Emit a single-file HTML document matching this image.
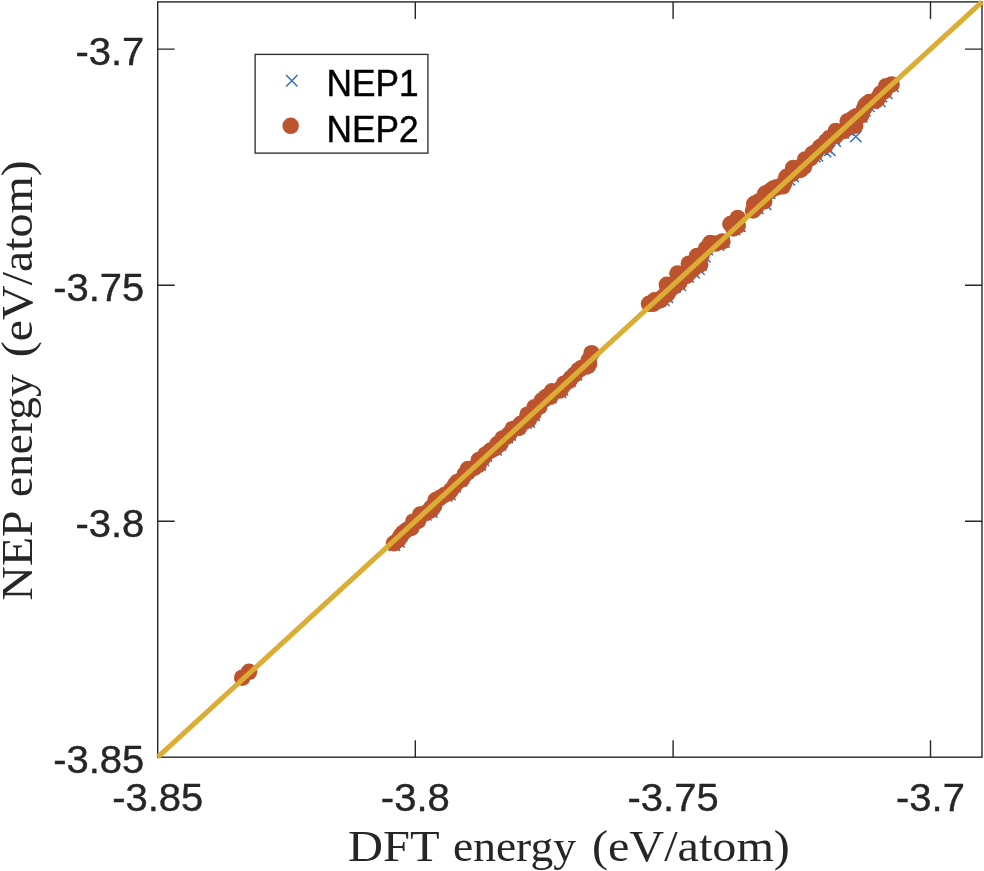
<!DOCTYPE html>
<html><head><meta charset="utf-8"><title>NEP vs DFT energy</title>
<style>
html,body{margin:0;padding:0;background:#fff;}
body{width:984px;height:871px;overflow:hidden;position:relative;}
svg{position:absolute;left:0;top:0;display:block;}
.tk{font-family:"Liberation Sans",Arial,sans-serif;font-size:40px;fill:#262626;stroke:#262626;stroke-width:0.4px;}
.lab{font-family:"Liberation Serif","DejaVu Serif",serif;font-size:44.5px;fill:#262626;}
.lg{font-family:"Liberation Sans",Arial,sans-serif;font-size:36px;fill:#000;stroke:#000;stroke-width:0.45px;}
</style></head>
<body>
<svg width="984" height="871" viewBox="0 0 984 871">
<path d="M850.1 130.9L861.5 142.3M850.1 142.3L861.5 130.9M236.9 672.3L248.3 683.7M236.9 683.7L248.3 672.3M242.5 667.4L253.9 678.8M242.5 678.8L253.9 667.4M819.9 145.9L831.3 157.3M819.9 157.3L831.3 145.9M824.2 144.5L835.6 155.9M824.2 155.9L835.6 144.5M829.5 135.3L840.9 146.7M829.5 146.7L840.9 135.3M828.4 133.1L839.8 144.5M828.4 144.5L839.8 133.1M809.2 150.9L820.6 162.3M809.2 162.3L820.6 150.9M849.4 120.3L860.8 131.7M849.4 131.7L860.8 120.3M583.9 358.9L595.3 370.3M583.9 370.3L595.3 358.9M820.8 141.8L832.2 153.2M820.8 153.2L832.2 141.8M809.7 147.7L821.1 159.1M809.7 159.1L821.1 147.7M830.8 127.3L842.2 138.7M830.8 138.7L842.2 127.3M701.5 243.9L712.9 255.3M701.5 255.3L712.9 243.9M707.0 239.8L718.4 251.2M707.0 251.2L718.4 239.8M712.8 239.3L724.2 250.7M712.8 250.7L724.2 239.3M718.3 236.3L729.7 247.7M718.3 247.7L729.7 236.3M728.7 223.7L740.1 235.1M728.7 235.1L740.1 223.7M732.5 213.0L743.9 224.4M732.5 224.4L743.9 213.0M734.2 220.6L745.6 232.0M734.2 232.0L745.6 220.6M749.8 197.4L761.2 208.8M749.8 208.8L761.2 197.4M752.1 202.5L763.5 213.9M752.1 213.9L763.5 202.5M388.7 539.7L400.1 551.1M388.7 551.1L400.1 539.7M393.3 536.1L404.7 547.5M393.3 547.5L404.7 536.1M396.0 530.0L407.4 541.4M396.0 541.4L407.4 530.0M401.7 524.3L413.1 535.7M401.7 535.7L413.1 524.3M406.7 521.2L418.1 532.6M406.7 532.6L418.1 521.2M407.2 516.1L418.6 527.5M407.2 527.5L418.6 516.1M412.9 514.4L424.3 525.8M412.9 525.8L424.3 514.4M415.2 509.7L426.6 521.1M415.2 521.1L426.6 509.7M420.2 509.1L431.6 520.5M420.2 520.5L431.6 509.1M426.2 506.3L437.6 517.7M426.2 517.7L437.6 506.3M426.4 503.9L437.8 515.3M426.4 515.3L437.8 503.9M428.0 502.1L439.4 513.5M428.0 513.5L439.4 502.1M432.9 493.1L444.3 504.5M432.9 504.5L444.3 493.1M440.8 490.2L452.2 501.6M440.8 501.6L452.2 490.2M444.2 488.8L455.6 500.2M444.2 500.2L455.6 488.8M449.4 481.2L460.8 492.6M449.4 492.6L460.8 481.2M455.7 475.0L467.1 486.4M455.7 486.4L467.1 475.0M459.2 469.2L470.6 480.6M459.2 480.6L470.6 469.2M462.3 466.4L473.7 477.8M462.3 477.8L473.7 466.4M464.5 463.9L475.9 475.3M464.5 475.3L475.9 463.9M468.4 462.3L479.8 473.7M468.4 473.7L479.8 462.3M474.5 459.0L485.9 470.4M474.5 470.4L485.9 459.0M474.4 455.5L485.8 466.9M474.4 466.9L485.8 455.5M477.7 454.5L489.1 465.9M477.7 465.9L489.1 454.5M480.6 450.3L492.0 461.7M480.6 461.7L492.0 450.3M484.7 445.5L496.1 456.9M484.7 456.9L496.1 445.5M490.4 444.1L501.8 455.5M490.4 455.5L501.8 444.1M491.7 440.5L503.1 451.9M491.7 451.9L503.1 440.5M494.6 439.3L506.0 450.7M494.6 450.7L506.0 439.3M496.1 433.5L507.5 444.9M496.1 444.9L507.5 433.5M501.6 431.9L513.0 443.3M501.6 443.3L513.0 431.9M504.4 429.2L515.8 440.6M504.4 440.6L515.8 429.2M506.6 423.4L518.0 434.8M506.6 434.8L518.0 423.4M513.8 422.3L525.2 433.7M513.8 433.7L525.2 422.3M514.6 420.2L526.0 431.6M514.6 431.6L526.0 420.2M520.1 417.3L531.5 428.7M520.1 428.7L531.5 417.3M523.4 416.3L534.8 427.7M523.4 427.7L534.8 416.3M522.2 408.7L533.6 420.1M522.2 420.1L533.6 408.7M528.2 409.7L539.6 421.1M528.2 421.1L539.6 409.7M529.9 403.0L541.3 414.4M529.9 414.4L541.3 403.0M534.6 399.8L546.0 411.2M534.6 411.2L546.0 399.8M538.1 395.1L549.5 406.5M538.1 406.5L549.5 395.1M539.8 393.4L551.2 404.8M539.8 404.8L551.2 393.4M545.3 391.8L556.7 403.2M545.3 403.2L556.7 391.8M545.8 387.3L557.2 398.7M545.8 398.7L557.2 387.3M554.9 386.5L566.3 397.9M554.9 397.9L566.3 386.5M556.7 384.4L568.1 395.8M556.7 395.8L568.1 384.4M558.8 378.5L570.2 389.9M558.8 389.9L570.2 378.5M564.2 375.3L575.6 386.7M564.2 386.7L575.6 375.3M570.8 369.0L582.2 380.4M570.8 380.4L582.2 369.0M573.4 364.5L584.8 375.9M573.4 375.9L584.8 364.5M576.8 361.5L588.2 372.9M576.8 372.9L588.2 361.5M582.4 360.4L593.8 371.8M582.4 371.8L593.8 360.4M583.6 355.3L595.0 366.7M583.6 366.7L595.0 355.3M654.8 294.4L666.2 305.8M654.8 305.8L666.2 294.4M658.2 294.5L669.6 305.9M658.2 305.9L669.6 294.5M661.7 291.5L673.1 302.9M661.7 302.9L673.1 291.5M662.8 285.2L674.2 296.6M662.8 296.6L674.2 285.2M661.2 281.4L672.6 292.8M661.2 292.8L672.6 281.4M669.3 281.2L680.7 292.6M669.3 292.6L680.7 281.2M669.3 279.3L680.7 290.7M669.3 290.7L680.7 279.3M674.6 279.6L686.0 291.0M674.6 291.0L686.0 279.6M671.5 269.1L682.9 280.5M671.5 280.5L682.9 269.1M676.4 269.3L687.8 280.7M676.4 280.7L687.8 269.3M682.5 271.3L693.9 282.7M682.5 282.7L693.9 271.3M683.9 267.2L695.3 278.6M683.9 278.6L695.3 267.2M688.4 267.2L699.8 278.6M688.4 278.6L699.8 267.2M685.0 259.8L696.4 271.2M685.0 271.2L696.4 259.8M693.3 263.4L704.7 274.8M693.3 274.8L704.7 263.4M695.5 259.0L706.9 270.4M695.5 270.4L706.9 259.0M692.3 251.5L703.7 262.9M692.3 262.9L703.7 251.5M699.2 251.0L710.6 262.4M699.2 262.4L710.6 251.0M748.1 203.7L759.5 215.1M748.1 215.1L759.5 203.7M750.9 200.6L762.3 212.0M750.9 212.0L762.3 200.6M759.9 198.5L771.3 209.9M759.9 209.9L771.3 198.5M764.0 187.6L775.4 199.0M764.0 199.0L775.4 187.6M766.6 183.5L778.0 194.9M766.6 194.9L778.0 183.5M777.5 180.4L788.9 191.8M777.5 191.8L788.9 180.4M778.9 176.8L790.3 188.2M778.9 188.2L790.3 176.8M783.6 174.2L795.0 185.6M783.6 185.6L795.0 174.2M787.6 170.9L799.0 182.3M787.6 182.3L799.0 170.9M790.2 163.6L801.6 175.0M790.2 175.0L801.6 163.6M795.2 162.0L806.6 173.4M795.2 173.4L806.6 162.0M795.2 163.9L806.6 175.3M795.2 175.3L806.6 163.9M800.7 156.0L812.1 167.4M800.7 167.4L812.1 156.0M808.3 150.0L819.7 161.4M808.3 161.4L819.7 150.0M811.8 150.0L823.2 161.4M811.8 161.4L823.2 150.0M818.3 140.3L829.7 151.7M818.3 151.7L829.7 140.3M820.7 137.9L832.1 149.3M820.7 149.3L832.1 137.9M824.5 131.5L835.9 142.9M824.5 142.9L835.9 131.5M831.2 124.3L842.6 135.7M831.2 135.7L842.6 124.3M837.4 127.0L848.8 138.4M837.4 138.4L848.8 127.0M842.4 124.2L853.8 135.6M842.4 135.6L853.8 124.2M843.1 118.6L854.5 130.0M843.1 130.0L854.5 118.6M848.8 114.2L860.2 125.6M848.8 125.6L860.2 114.2M852.3 110.2L863.7 121.6M852.3 121.6L863.7 110.2M856.0 111.0L867.4 122.4M856.0 122.4L867.4 111.0M859.2 105.2L870.6 116.6M859.2 116.6L870.6 105.2M863.2 100.7L874.6 112.1M863.2 112.1L874.6 100.7M866.7 97.8L878.1 109.2M866.7 109.2L878.1 97.8M874.1 95.6L885.5 107.0M874.1 107.0L885.5 95.6M875.7 90.8L887.1 102.2M875.7 102.2L887.1 90.8M881.1 87.5L892.5 98.9M881.1 98.9L892.5 87.5M887.3 80.6L898.7 92.0M887.3 92.0L898.7 80.6" stroke="#3368BC" stroke-width="1.4" fill="none"/>
<g fill="#BC542D"><circle cx="242.2" cy="677.7" r="8.25"/><circle cx="249.0" cy="671.8" r="8.25"/><circle cx="855.2" cy="125.7" r="8.25"/><circle cx="591.6" cy="353.2" r="8.25"/><circle cx="589.0" cy="364.0" r="8.25"/><circle cx="825.7" cy="145.2" r="8.25"/><circle cx="815.7" cy="152.3" r="8.25"/><circle cx="835.7" cy="132.4" r="8.25"/><circle cx="706.0" cy="248.5" r="8.25"/><circle cx="710.2" cy="243.0" r="8.25"/><circle cx="716.0" cy="243.5" r="8.25"/><circle cx="722.4" cy="241.4" r="8.25"/><circle cx="730.4" cy="224.0" r="8.25"/><circle cx="733.5" cy="228.5" r="8.25"/><circle cx="737.7" cy="218.0" r="8.25"/><circle cx="737.7" cy="225.8" r="8.25"/><circle cx="754.3" cy="203.8" r="8.25"/><circle cx="755.7" cy="207.9" r="8.25"/><circle cx="394.0" cy="543.3" r="8.25"/><circle cx="398.3" cy="539.9" r="8.25"/><circle cx="400.7" cy="535.9" r="8.25"/><circle cx="403.0" cy="532.9" r="8.25"/><circle cx="406.7" cy="530.0" r="8.25"/><circle cx="411.3" cy="527.8" r="8.25"/><circle cx="413.2" cy="521.7" r="8.25"/><circle cx="418.0" cy="520.9" r="8.25"/><circle cx="420.1" cy="514.6" r="8.25"/><circle cx="425.2" cy="513.3" r="8.25"/><circle cx="430.4" cy="510.6" r="8.25"/><circle cx="431.1" cy="507.8" r="8.25"/><circle cx="434.0" cy="506.2" r="8.25"/><circle cx="435.5" cy="500.3" r="8.25"/><circle cx="439.6" cy="498.1" r="8.25"/><circle cx="444.5" cy="495.0" r="8.25"/><circle cx="448.9" cy="493.0" r="8.25"/><circle cx="451.1" cy="490.0" r="8.25"/><circle cx="454.9" cy="485.1" r="8.25"/><circle cx="457.3" cy="481.9" r="8.25"/><circle cx="461.9" cy="479.5" r="8.25"/><circle cx="464.7" cy="474.3" r="8.25"/><circle cx="467.7" cy="472.4" r="8.25"/><circle cx="468.1" cy="468.9" r="8.25"/><circle cx="474.1" cy="467.8" r="8.25"/><circle cx="478.7" cy="464.9" r="8.25"/><circle cx="478.9" cy="459.9" r="8.25"/><circle cx="482.9" cy="458.2" r="8.25"/><circle cx="485.6" cy="454.4" r="8.25"/><circle cx="490.6" cy="450.5" r="8.25"/><circle cx="495.3" cy="448.2" r="8.25"/><circle cx="497.4" cy="444.1" r="8.25"/><circle cx="500.4" cy="443.7" r="8.25"/><circle cx="502.7" cy="438.4" r="8.25"/><circle cx="506.6" cy="436.7" r="8.25"/><circle cx="509.3" cy="434.0" r="8.25"/><circle cx="512.8" cy="428.9" r="8.25"/><circle cx="518.8" cy="428.0" r="8.25"/><circle cx="520.4" cy="424.0" r="8.25"/><circle cx="524.0" cy="422.1" r="8.25"/><circle cx="528.8" cy="419.9" r="8.25"/><circle cx="527.5" cy="414.7" r="8.25"/><circle cx="533.3" cy="413.9" r="8.25"/><circle cx="534.5" cy="407.3" r="8.25"/><circle cx="539.4" cy="406.6" r="8.25"/><circle cx="541.7" cy="400.6" r="8.25"/><circle cx="545.8" cy="397.1" r="8.25"/><circle cx="550.3" cy="396.8" r="8.25"/><circle cx="551.9" cy="391.3" r="8.25"/><circle cx="559.6" cy="390.6" r="8.25"/><circle cx="561.5" cy="388.2" r="8.25"/><circle cx="564.0" cy="383.7" r="8.25"/><circle cx="569.0" cy="381.0" r="8.25"/><circle cx="570.9" cy="378.0" r="8.25"/><circle cx="574.5" cy="374.7" r="8.25"/><circle cx="578.5" cy="370.2" r="8.25"/><circle cx="581.6" cy="367.9" r="8.25"/><circle cx="587.1" cy="366.4" r="8.25"/><circle cx="588.6" cy="360.3" r="8.25"/><circle cx="649.0" cy="303.8" r="8.25"/><circle cx="653.1" cy="303.8" r="8.25"/><circle cx="654.5" cy="300.3" r="8.25"/><circle cx="660.1" cy="300.5" r="8.25"/><circle cx="662.9" cy="297.1" r="8.25"/><circle cx="666.7" cy="294.7" r="8.25"/><circle cx="668.6" cy="291.9" r="8.25"/><circle cx="667.5" cy="290.3" r="8.25"/><circle cx="666.8" cy="284.8" r="8.25"/><circle cx="674.6" cy="286.4" r="8.25"/><circle cx="675.3" cy="283.3" r="8.25"/><circle cx="679.3" cy="282.4" r="8.25"/><circle cx="677.4" cy="273.6" r="8.25"/><circle cx="682.3" cy="275.3" r="8.25"/><circle cx="686.5" cy="276.0" r="8.25"/><circle cx="688.5" cy="272.3" r="8.25"/><circle cx="692.4" cy="270.0" r="8.25"/><circle cx="688.8" cy="263.7" r="8.25"/><circle cx="697.0" cy="265.9" r="8.25"/><circle cx="700.2" cy="264.4" r="8.25"/><circle cx="697.0" cy="255.9" r="8.25"/><circle cx="701.7" cy="255.0" r="8.25"/><circle cx="753.0" cy="210.5" r="8.25"/><circle cx="754.5" cy="205.4" r="8.25"/><circle cx="758.5" cy="201.6" r="8.25"/><circle cx="764.2" cy="201.4" r="8.25"/><circle cx="765.1" cy="193.8" r="8.25"/><circle cx="769.4" cy="191.4" r="8.25"/><circle cx="773.2" cy="188.6" r="8.25"/><circle cx="776.7" cy="187.3" r="8.25"/><circle cx="782.7" cy="186.3" r="8.25"/><circle cx="784.5" cy="182.4" r="8.25"/><circle cx="786.5" cy="176.8" r="8.25"/><circle cx="792.2" cy="173.8" r="8.25"/><circle cx="793.2" cy="167.9" r="8.25"/><circle cx="799.6" cy="167.8" r="8.25"/><circle cx="800.4" cy="170.0" r="8.25"/><circle cx="804.0" cy="166.9" r="8.25"/><circle cx="805.0" cy="159.6" r="8.25"/><circle cx="810.7" cy="158.2" r="8.25"/><circle cx="812.5" cy="153.7" r="8.25"/><circle cx="815.7" cy="152.0" r="8.25"/><circle cx="820.0" cy="147.0" r="8.25"/><circle cx="824.6" cy="145.5" r="8.25"/><circle cx="825.8" cy="141.6" r="8.25"/><circle cx="829.4" cy="138.1" r="8.25"/><circle cx="835.8" cy="136.0" r="8.25"/><circle cx="835.9" cy="130.9" r="8.25"/><circle cx="843.5" cy="131.1" r="8.25"/><circle cx="846.1" cy="128.8" r="8.25"/><circle cx="847.8" cy="121.2" r="8.25"/><circle cx="848.0" cy="121.8" r="8.25"/><circle cx="853.4" cy="118.0" r="8.25"/><circle cx="856.3" cy="116.2" r="8.25"/><circle cx="861.3" cy="115.3" r="8.25"/><circle cx="864.0" cy="108.5" r="8.25"/><circle cx="865.7" cy="104.8" r="8.25"/><circle cx="869.3" cy="102.0" r="8.25"/><circle cx="875.8" cy="100.7" r="8.25"/><circle cx="878.1" cy="98.1" r="8.25"/><circle cx="880.5" cy="93.7" r="8.25"/><circle cx="884.6" cy="91.1" r="8.25"/><circle cx="886.2" cy="86.2" r="8.25"/><circle cx="891.6" cy="84.4" r="8.25"/></g>
<rect x="157.7" y="1.9" width="824.3" height="755.3000000000001" fill="none" stroke="#262626" stroke-width="1.4"/>
<path d="M415.3 757.2V740.2M415.3 1.9V18.9M673.1 757.2V740.2M673.1 1.9V18.9M930.5 757.2V740.2M930.5 1.9V18.9M157.7 49.1H174.7M982.0 49.1H965.0M157.7 285.2H174.7M982.0 285.2H965.0M157.7 521.2H174.7M982.0 521.2H965.0" stroke="#262626" stroke-width="1.4" fill="none"/>
<line x1="157.7" y1="757.2" x2="982.0" y2="1.9" stroke="#DBAD34" stroke-width="5.1"/>
<text transform="translate(157.7 811.3) scale(1 0.982)" text-anchor="middle" class="tk">-3.85</text>
<text transform="translate(415.3 811.3) scale(1 0.982)" text-anchor="middle" class="tk">-3.8</text>
<text transform="translate(673.1 811.3) scale(1 0.982)" text-anchor="middle" class="tk">-3.75</text>
<text transform="translate(930.5 811.3) scale(1 0.982)" text-anchor="middle" class="tk">-3.7</text>
<text transform="translate(144.3 65.2) scale(1 0.982)" text-anchor="end" class="tk">-3.7</text>
<text transform="translate(144.3 301.3) scale(1 0.982)" text-anchor="end" class="tk">-3.75</text>
<text transform="translate(144.3 537.3) scale(1 0.982)" text-anchor="end" class="tk">-3.8</text>
<text transform="translate(144.3 773.3) scale(1 0.982)" text-anchor="end" class="tk">-3.85</text>
<g transform="translate(0 860.5)"><text x="348.01" y="0" class="lab" textLength="91.57" lengthAdjust="spacingAndGlyphs">DFT</text><text x="453.06" y="0" class="lab" textLength="122.83" lengthAdjust="spacingAndGlyphs">energy</text><text x="591.93" y="0" class="lab" textLength="198.00" lengthAdjust="spacingAndGlyphs">(eV/atom)</text></g>
<g transform="translate(32.4 599.4) rotate(-90)"><text x="-1.07" y="0" class="lab" textLength="90.00" lengthAdjust="spacingAndGlyphs">NEP</text><text x="102.36" y="0" class="lab" textLength="122.83" lengthAdjust="spacingAndGlyphs">energy</text><text x="242.25" y="0" class="lab" textLength="196.88" lengthAdjust="spacingAndGlyphs">(eV/atom)</text></g>
<rect x="255.1" y="54.4" width="172.8" height="98.7" fill="#fff" stroke="#262626" stroke-width="1.3"/>
<path d="M286.1 75.1L297.5 86.5M286.1 86.5L297.5 75.1" stroke="#3368BC" stroke-width="1.4"/>
<circle cx="290.65" cy="125.85" r="8.25" fill="#BC542D"/>
<text x="326.5" y="95.6" class="lg" textLength="92.1" lengthAdjust="spacingAndGlyphs">NEP1</text>
<text x="326.5" y="141.8" class="lg" textLength="92.1" lengthAdjust="spacingAndGlyphs">NEP2</text>
</svg>
</body></html>
